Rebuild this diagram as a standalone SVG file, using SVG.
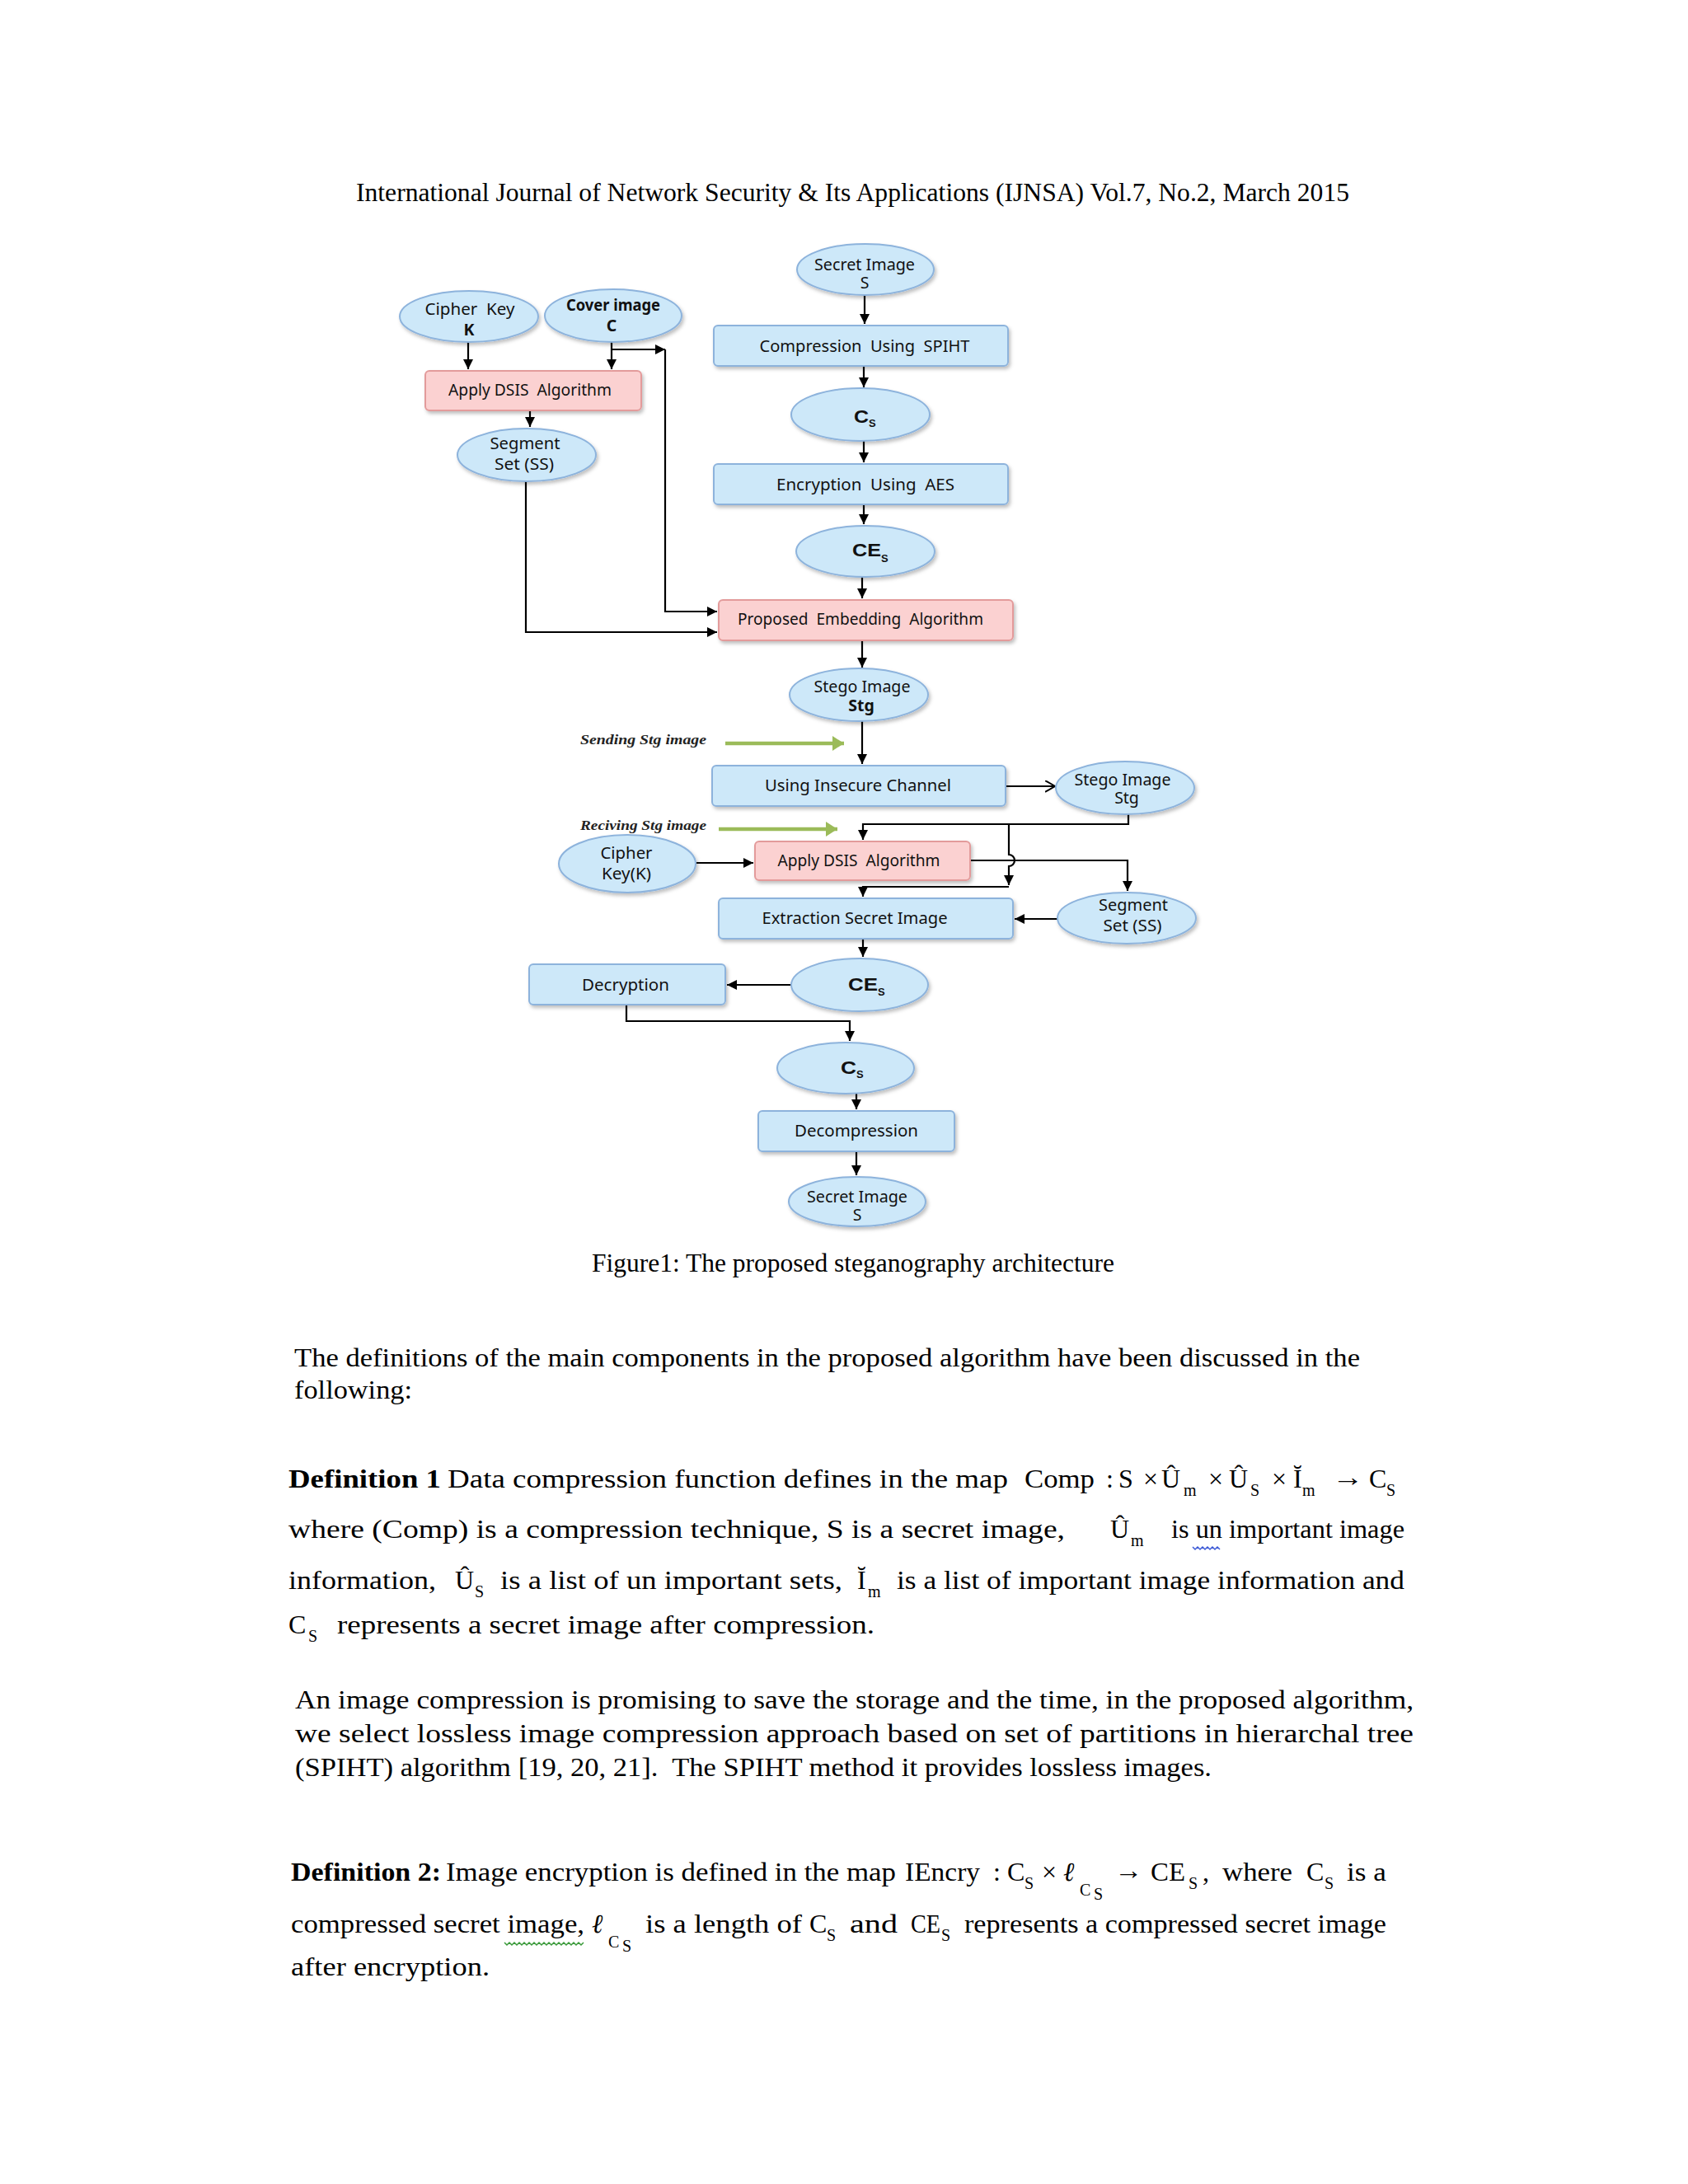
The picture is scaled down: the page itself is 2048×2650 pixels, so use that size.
<svg xmlns="http://www.w3.org/2000/svg" width="2048" height="2650" viewBox="0 0 2048 2650">
<defs>
<style>
.pg{font-family:"Liberation Serif","Times New Roman",serif;font-size:32px;fill:#000}
.b{font-weight:bold}
.sub{font-family:"Liberation Serif","Times New Roman",serif;font-size:20px;fill:#000}
.lbl{font-family:"Noto Sans","DejaVu Sans",sans-serif;font-size:19.5px;fill:#111;text-anchor:middle}
.ar{font-family:"Liberation Sans",Arial,sans-serif;font-weight:bold;fill:#111}
.ital{font-family:"Liberation Serif","Times New Roman",serif;font-size:17px;font-weight:bold;font-style:italic;fill:#222}
.blue{fill:#cde8f9;stroke:#8db3dc;stroke-width:2}
.pink{fill:#fbd1d1;stroke:#e39b9b;stroke-width:2}
.edge{fill:none;stroke:#000;stroke-width:2.2}
.green{fill:none;stroke:#9bbb59;stroke-width:4.5}
.sq{fill:none;stroke-width:1.5}
</style>
<filter id="sh" x="-10%" y="-10%" width="130%" height="140%">
<feDropShadow dx="2" dy="3" stdDeviation="2" flood-color="#000" flood-opacity="0.25"/>
</filter>
<marker id="ah" markerUnits="userSpaceOnUse" markerWidth="14" markerHeight="14" refX="12" refY="6" orient="auto">
<path d="M0,0 L12,6 L0,12 z" fill="#000"/>
</marker>
<marker id="oh" markerUnits="userSpaceOnUse" markerWidth="16" markerHeight="16" refX="12" refY="7" orient="auto">
<path d="M0,0 L12,7 L0,14" fill="none" stroke="#000" stroke-width="2"/>
</marker>
<marker id="gh" markerUnits="userSpaceOnUse" markerWidth="20" markerHeight="20" refX="14" refY="9" orient="auto">
<path d="M0,0 L14,9 L0,18 z" fill="#9bbb59"/>
</marker>
</defs>
<rect x="0" y="0" width="2048" height="2650" fill="#fff"/>

<text class="pg" x="432" y="244" textLength="1205" lengthAdjust="spacingAndGlyphs">International Journal of Network Security &amp; Its Applications (IJNSA) Vol.7, No.2, March 2015</text>

<g id="connectors">
<path class="edge" d="M1049,358 V393" marker-end="url(#ah)"/>
<path class="edge" d="M1048,444 V470" marker-end="url(#ah)"/>
<path class="edge" d="M568,415 V448" marker-end="url(#ah)"/>
<path class="edge" d="M742,415 V448" marker-end="url(#ah)"/>
<path class="edge" d="M742,424 H807" marker-end="url(#ah)"/>
<path class="edge" d="M807,424 V742 H870" marker-end="url(#ah)"/>
<path class="edge" d="M643,498 V518" marker-end="url(#ah)"/>
<path class="edge" d="M1048,535 V561" marker-end="url(#ah)"/>
<path class="edge" d="M638,583 V767 H870" marker-end="url(#ah)"/>
<path class="edge" d="M1048,612 V636" marker-end="url(#ah)"/>
<path class="edge" d="M1046,700 V726" marker-end="url(#ah)"/>
<path class="edge" d="M1046,777 V810" marker-end="url(#ah)"/>
<path class="edge" d="M1046,875 V927" marker-end="url(#ah)"/>
<path class="edge" d="M1220,954 H1280" marker-end="url(#oh)"/>
<path class="edge" d="M1369,988 V1000 H1047 V1019" marker-end="url(#ah)"/>
<path class="edge" d="M1224,1000 V1037 A7,7 0 0 1 1224,1051 V1074" marker-end="url(#ah)"/>
<path class="edge" d="M1224,1076 H1047 V1088" marker-end="url(#ah)"/>
<path class="edge" d="M1177,1044 H1368 V1081" marker-end="url(#ah)"/>
<path class="edge" d="M845,1047 H914" marker-end="url(#ah)"/>
<path class="edge" d="M1284,1115 H1231" marker-end="url(#ah)"/>
<path class="edge" d="M1047,1139 V1161" marker-end="url(#ah)"/>
<path class="edge" d="M960,1195 H882" marker-end="url(#ah)"/>
<path class="edge" d="M760,1219 V1239 H1031 V1263" marker-end="url(#ah)"/>
<path class="edge" d="M1039,1327 V1346" marker-end="url(#ah)"/>
<path class="edge" d="M1039,1397 V1426" marker-end="url(#ah)"/>
<path class="green" d="M880,902 H1024" marker-end="url(#gh)"/>
<path class="green" d="M872,1006 H1016" marker-end="url(#gh)"/>
</g>

<g id="n-secret-top"><ellipse class="blue" filter="url(#sh)" cx="1050" cy="327" rx="83" ry="31"/>
<text class="lbl" x="1049" y="328" textLength="122" lengthAdjust="spacingAndGlyphs">Secret Image</text><text class="lbl" x="1049" y="350" font-size="17">S</text></g>

<g id="n-cipher-key"><ellipse class="blue" filter="url(#sh)" cx="569" cy="384" rx="84" ry="31"/>
<text class="lbl" x="570" y="382" textLength="109" lengthAdjust="spacingAndGlyphs" xml:space="preserve">Cipher  Key</text><text class="lbl" x="569" y="407" font-weight="bold" font-size="17">K</text></g>

<g id="n-cover"><ellipse class="blue" filter="url(#sh)" cx="744" cy="383" rx="83" ry="32"/>
<text class="lbl" x="744" y="377" font-weight="bold" font-size="17" textLength="114" lengthAdjust="spacingAndGlyphs">Cover image</text><text class="lbl" x="742" y="402" font-weight="bold" font-size="16">C</text></g>

<g id="n-compression"><rect class="blue" filter="url(#sh)" x="866" y="395" width="357" height="49" rx="5"/>
<text class="lbl" x="1049" y="427" textLength="255" lengthAdjust="spacingAndGlyphs" xml:space="preserve">Compression  Using  SPIHT</text></g>

<g id="n-dsis1"><rect class="pink" filter="url(#sh)" x="516" y="450" width="262" height="48" rx="5"/>
<text class="lbl" x="643" y="480" textLength="198" lengthAdjust="spacingAndGlyphs" xml:space="preserve">Apply DSIS  Algorithm</text></g>

<g id="n-cs1"><ellipse class="blue" filter="url(#sh)" cx="1044" cy="503" rx="84" ry="32"/>
<text class="ar" x="1036" y="513" font-size="22" textLength="18" lengthAdjust="spacingAndGlyphs">C</text><text class="ar" x="1054" y="518" font-size="13" font-weight="normal">S</text></g>

<g id="n-segment1"><ellipse class="blue" filter="url(#sh)" cx="639" cy="552" rx="84" ry="32"/>
<text class="lbl" x="637" y="545" textLength="85" lengthAdjust="spacingAndGlyphs">Segment</text><text class="lbl" x="636" y="570" textLength="72" lengthAdjust="spacingAndGlyphs">Set (SS)</text></g>

<g id="n-encryption"><rect class="blue" filter="url(#sh)" x="866" y="563" width="357" height="49" rx="5"/>
<text class="lbl" x="1050" y="595" textLength="216" lengthAdjust="spacingAndGlyphs" xml:space="preserve">Encryption  Using  AES</text></g>

<g id="n-ces1"><ellipse class="blue" filter="url(#sh)" cx="1050" cy="669" rx="84" ry="31"/>
<text class="ar" x="1034" y="675" font-size="22" textLength="35" lengthAdjust="spacingAndGlyphs">CE</text><text class="ar" x="1069" y="682" font-size="13" font-weight="normal">S</text></g>

<g id="n-embedding"><rect class="pink" filter="url(#sh)" x="872" y="728" width="357" height="49" rx="5"/>
<text class="lbl" x="1044" y="758" textLength="298" lengthAdjust="spacingAndGlyphs" xml:space="preserve">Proposed  Embedding  Algorithm</text></g>

<g id="n-stego1"><ellipse class="blue" filter="url(#sh)" cx="1042" cy="843" rx="84" ry="32"/>
<text class="lbl" x="1046" y="840" textLength="117" lengthAdjust="spacingAndGlyphs">Stego Image</text><text class="lbl" x="1045" y="863" font-weight="bold" font-size="17">Stg</text></g>

<text class="ital" x="704" y="903" textLength="153" lengthAdjust="spacingAndGlyphs">Sending Stg image</text>
<text class="ital" x="704" y="1007" textLength="153" lengthAdjust="spacingAndGlyphs">Reciving Stg image</text>

<g id="n-channel"><rect class="blue" filter="url(#sh)" x="864" y="929" width="356" height="49" rx="5"/>
<text class="lbl" x="1041" y="960" textLength="226" lengthAdjust="spacingAndGlyphs">Using Insecure Channel</text></g>

<g id="n-stego2"><ellipse class="blue" filter="url(#sh)" cx="1365" cy="956" rx="84" ry="32"/>
<text class="lbl" x="1362" y="953" textLength="117" lengthAdjust="spacingAndGlyphs">Stego Image</text><text class="lbl" x="1367" y="975" font-size="18">Stg</text></g>

<g id="n-cipher2"><ellipse class="blue" filter="url(#sh)" cx="761" cy="1048" rx="83" ry="35"/>
<text class="lbl" x="760" y="1042" textLength="63" lengthAdjust="spacingAndGlyphs">Cipher</text><text class="lbl" x="760" y="1067" textLength="60" lengthAdjust="spacingAndGlyphs">Key(K)</text></g>

<g id="n-dsis2"><rect class="pink" filter="url(#sh)" x="916" y="1021" width="261" height="47" rx="5"/>
<text class="lbl" x="1042" y="1051" textLength="197" lengthAdjust="spacingAndGlyphs" xml:space="preserve">Apply DSIS  Algorithm</text></g>

<g id="n-segment2"><ellipse class="blue" filter="url(#sh)" cx="1367" cy="1114" rx="84" ry="31"/>
<text class="lbl" x="1375" y="1105" textLength="84" lengthAdjust="spacingAndGlyphs">Segment</text><text class="lbl" x="1374" y="1130" textLength="71" lengthAdjust="spacingAndGlyphs">Set (SS)</text></g>

<g id="n-extraction"><rect class="blue" filter="url(#sh)" x="872" y="1090" width="357" height="49" rx="5"/>
<text class="lbl" x="1037" y="1121" textLength="225" lengthAdjust="spacingAndGlyphs">Extraction Secret Image</text></g>

<g id="n-ces2"><ellipse class="blue" filter="url(#sh)" cx="1043" cy="1195" rx="83" ry="32"/>
<text class="ar" x="1029" y="1202" font-size="22" textLength="36" lengthAdjust="spacingAndGlyphs">CE</text><text class="ar" x="1065" y="1208" font-size="13" font-weight="normal">S</text></g>

<g id="n-decryption"><rect class="blue" filter="url(#sh)" x="642" y="1170" width="238" height="49" rx="5"/>
<text class="lbl" x="759" y="1202" textLength="106" lengthAdjust="spacingAndGlyphs">Decryption</text></g>

<g id="n-cs2"><ellipse class="blue" filter="url(#sh)" cx="1026" cy="1296" rx="83" ry="31"/>
<text class="ar" x="1020" y="1303" font-size="22" textLength="19" lengthAdjust="spacingAndGlyphs">C</text><text class="ar" x="1039" y="1308" font-size="13" font-weight="normal">S</text></g>

<g id="n-decompression"><rect class="blue" filter="url(#sh)" x="920" y="1348" width="238" height="49" rx="5"/>
<text class="lbl" x="1039" y="1379" textLength="150" lengthAdjust="spacingAndGlyphs">Decompression</text></g>

<g id="n-secret-bottom"><ellipse class="blue" filter="url(#sh)" cx="1040" cy="1458" rx="83" ry="30"/>
<text class="lbl" x="1040" y="1459" textLength="122" lengthAdjust="spacingAndGlyphs">Secret Image</text><text class="lbl" x="1040" y="1481" font-size="17">S</text></g>

<text class="pg" x="718" y="1543" textLength="634" lengthAdjust="spacingAndGlyphs">Figure1: The proposed steganography architecture</text>

<text class="pg" x="357" y="1658" textLength="1293" lengthAdjust="spacingAndGlyphs">The definitions of the main components in the proposed algorithm have been discussed in the</text>
<text class="pg" x="357" y="1697" textLength="143" lengthAdjust="spacingAndGlyphs">following:</text>

<text class="pg b" x="350" y="1805" textLength="185" lengthAdjust="spacingAndGlyphs">Definition 1</text>
<text class="pg" x="543" y="1805" textLength="680" lengthAdjust="spacingAndGlyphs">Data compression function defines in the map</text>
<text class="pg" x="1243" y="1805" textLength="85" lengthAdjust="spacingAndGlyphs">Comp</text>
<text class="pg" x="1342" y="1805">:</text>
<text class="pg" x="1357" y="1805">S</text>
<text class="pg" x="1387" y="1805" font-size="26">×</text>
<text class="pg" x="1409" y="1805">Û</text>
<text class="sub" x="1436" y="1815">m</text>
<text class="pg" x="1466" y="1805" font-size="26">×</text>
<text class="pg" x="1491" y="1805">Û</text>
<text class="sub" x="1517" y="1815">S</text>
<text class="pg" x="1543" y="1805" font-size="26">×</text>
<text class="pg" x="1569" y="1805">Ĭ</text>
<text class="sub" x="1580" y="1815">m</text>
<text class="pg" x="1616" y="1803" textLength="38" lengthAdjust="spacingAndGlyphs">→</text>
<text class="pg" x="1661" y="1805">C</text>
<text class="sub" x="1682" y="1815">S</text>

<text class="pg" x="350" y="1866" textLength="942" lengthAdjust="spacingAndGlyphs">where (Comp) is a compression technique, S is a secret image,</text>
<text class="pg" x="1347" y="1866">Û</text>
<text class="sub" x="1372" y="1876">m</text>
<text class="pg" x="1421" y="1866" textLength="283" lengthAdjust="spacingAndGlyphs">is un important image</text>
<path class="sq" stroke="#3c5ad6" d="M1447,1877 l3,3 l3,-3 l3,3 l3,-3 l3,3 l3,-3 l3,3 l3,-3 l3,3 l3,-3 l3,3"/>

<text class="pg" x="350" y="1928" textLength="179" lengthAdjust="spacingAndGlyphs">information,</text>
<text class="pg" x="552" y="1928">Û</text>
<text class="sub" x="576" y="1938">S</text>
<text class="pg" x="607" y="1928" textLength="415" lengthAdjust="spacingAndGlyphs">is a list of un important sets,</text>
<text class="pg" x="1040" y="1928">Ĭ</text>
<text class="sub" x="1053" y="1938">m</text>
<text class="pg" x="1088" y="1928" textLength="616" lengthAdjust="spacingAndGlyphs">is a list of important image information and</text>

<text class="pg" x="350" y="1982">C</text>
<text class="sub" x="374" y="1992">S</text>
<text class="pg" x="409" y="1982" textLength="652" lengthAdjust="spacingAndGlyphs">represents a secret image after compression.</text>

<text class="pg" x="358" y="2073" textLength="1357" lengthAdjust="spacingAndGlyphs">An image compression is promising to save the storage and the time, in the proposed algorithm,</text>
<text class="pg" x="358" y="2114" textLength="1357" lengthAdjust="spacingAndGlyphs">we select lossless image compression approach based on set of partitions in hierarchal tree</text>
<text class="pg" x="358" y="2155" textLength="1112" lengthAdjust="spacingAndGlyphs" xml:space="preserve">(SPIHT) algorithm [19, 20, 21].  The SPIHT method it provides lossless images.</text>

<text class="pg b" x="353" y="2282" textLength="182" lengthAdjust="spacingAndGlyphs">Definition 2:</text>
<text class="pg" x="541" y="2282" textLength="546" lengthAdjust="spacingAndGlyphs">Image encryption is defined in the map</text>
<text class="pg" x="1098" y="2282" textLength="91" lengthAdjust="spacingAndGlyphs">IEncry</text>
<text class="pg" x="1205" y="2282">:</text>
<text class="pg" x="1222" y="2282">C</text>
<text class="sub" x="1243" y="2292">S</text>
<text class="pg" x="1264" y="2282" font-size="26">×</text>
<text class="pg" x="1290" y="2282" font-style="italic">ℓ</text>
<text class="sub" x="1310" y="2300">C</text>
<text class="sub" x="1327" y="2305" font-size="13" fill="#999">S</text>
<text class="pg" x="1352" y="2280" textLength="34" lengthAdjust="spacingAndGlyphs">→</text>
<text class="pg" x="1396" y="2282" textLength="42" lengthAdjust="spacingAndGlyphs">CE</text>
<text class="sub" x="1442" y="2292">S</text>
<text class="pg" x="1459" y="2282">,</text>
<text class="pg" x="1483" y="2282" textLength="85" lengthAdjust="spacingAndGlyphs">where</text>
<text class="pg" x="1585" y="2282">C</text>
<text class="sub" x="1607" y="2292">S</text>
<text class="pg" x="1634" y="2282" textLength="48" lengthAdjust="spacingAndGlyphs">is a</text>

<text class="pg" x="353" y="2345" textLength="356" lengthAdjust="spacingAndGlyphs">compressed secret image,</text>
<path class="sq" stroke="#3a9a3a" d="M612,2357 l3,3 l3,-3 l3,3 l3,-3 l3,3 l3,-3 l3,3 l3,-3 l3,3 l3,-3 l3,3 l3,-3 l3,3 l3,-3 l3,3 l3,-3 l3,3 l3,-3 l3,3 l3,-3 l3,3 l3,-3 l3,3 l3,-3 l3,3 l3,-3 l3,3 l3,-3 l3,3 l3,-3 l3,3 l3,-3"/>
<text class="pg" x="718" y="2345" font-style="italic">ℓ</text>
<text class="sub" x="738" y="2363">C</text>
<text class="sub" x="755" y="2368" font-size="13" fill="#999">S</text>
<text class="pg" x="783" y="2345" textLength="190" lengthAdjust="spacingAndGlyphs">is a length of</text>
<text class="pg" x="982" y="2345">C</text>
<text class="sub" x="1003" y="2355">S</text>
<text class="pg" x="1031" y="2345" textLength="58" lengthAdjust="spacingAndGlyphs">and</text>
<text class="pg" x="1105" y="2345" textLength="36" lengthAdjust="spacingAndGlyphs">CE</text>
<text class="sub" x="1142" y="2355">S</text>
<text class="pg" x="1170" y="2345" textLength="512" lengthAdjust="spacingAndGlyphs">represents a compressed secret image</text>
<text class="pg" x="353" y="2397" textLength="241" lengthAdjust="spacingAndGlyphs">after encryption.</text>
</svg>
